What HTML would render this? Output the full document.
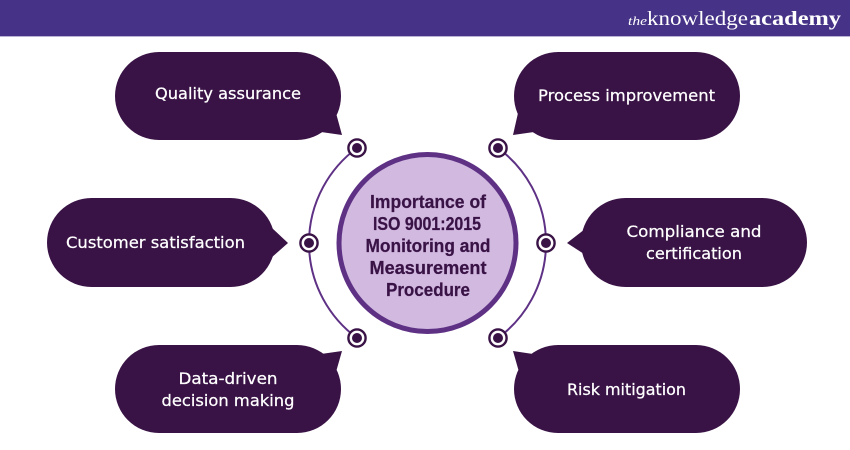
<!DOCTYPE html>
<html>
<head>
<meta charset="utf-8">
<style>
html,body{margin:0;padding:0;background:#fff;width:850px;height:450px;overflow:hidden}
svg{display:block}
.b{font-family:"DejaVu Sans","Liberation Sans",sans-serif;font-size:16px;fill:#fff;text-anchor:middle;stroke:#fff;stroke-width:.25px}
.c{font-family:"Liberation Sans",sans-serif;font-size:18px;font-weight:bold;fill:#3a1346;text-anchor:middle;stroke:#3a1346;stroke-width:.25px}
.l{font-family:"Liberation Serif",serif;fill:#fff}
</style>
</head>
<body>
<svg width="850" height="450" viewBox="0 0 850 450" xmlns="http://www.w3.org/2000/svg">
<rect width="850" height="450" fill="#fff"/>
<rect width="850" height="36" fill="#463387"/>
<rect y="36" width="850" height="1" fill="#b9b2d2"/>
<text class="l" x="628" y="25" font-size="13" font-style="italic" textLength="19" lengthAdjust="spacingAndGlyphs">the</text>
<text class="l" x="647" y="25" font-size="20" textLength="101" lengthAdjust="spacingAndGlyphs">knowledge</text>
<text class="l" x="749" y="25" font-size="20" font-weight="bold" textLength="92" lengthAdjust="spacingAndGlyphs">academy</text>

<g fill="#3a1346">
<rect x="115" y="52" width="226" height="88" rx="44"/>
<path d="M336 113L342 135L321 132Z"/>
<rect x="47" y="198" width="228" height="89" rx="44.500"/>
<path d="M272 228L288 243L271 258Z"/>
<rect x="115" y="345" width="226" height="88" rx="44"/>
<path d="M321 354L342 351L336 372Z"/>
<rect x="514" y="52" width="226" height="88" rx="44"/>
<path d="M518 113L513 135L534 132Z"/>
<rect x="581" y="198" width="226" height="89" rx="44.500"/>
<path d="M585 229L567 243L584 254Z"/>
<rect x="514" y="345" width="226" height="88" rx="44"/>
<path d="M533 354L513 351L519 372Z"/>
</g>

<g fill="none" stroke="#5e3185" stroke-width="2">
<path d="M357 148A118 118 0 0 0 357 338"/>
<path d="M498 148A118 118 0 0 1 498 338"/>
</g>

<circle cx="427.500" cy="243" r="88.500" fill="#d1b9e0" stroke="#5e3185" stroke-width="5"/>

<g fill="#fff" stroke="#3a1346" stroke-width="2.400">
<circle cx="357" cy="148" r="8.600"/>
<circle cx="309" cy="243" r="8.600"/>
<circle cx="357" cy="338" r="8.600"/>
<circle cx="498" cy="148" r="8.600"/>
<circle cx="546" cy="243" r="8.600"/>
<circle cx="498" cy="338" r="8.600"/>
</g>
<g fill="#3a1346">
<circle cx="357" cy="148" r="5"/>
<circle cx="309" cy="243" r="5"/>
<circle cx="357" cy="338" r="5"/>
<circle cx="498" cy="148" r="5"/>
<circle cx="546" cy="243" r="5"/>
<circle cx="498" cy="338" r="5"/>
</g>

<text class="c" x="428" y="208" textLength="116" lengthAdjust="spacingAndGlyphs">Importance of</text>
<text class="c" x="427" y="230" textLength="108" lengthAdjust="spacingAndGlyphs">ISO 9001:2015</text>
<text class="c" x="428" y="252" textLength="125" lengthAdjust="spacingAndGlyphs">Monitoring and</text>
<text class="c" x="428" y="274" textLength="117" lengthAdjust="spacingAndGlyphs">Measurement</text>
<text class="c" x="428" y="296" textLength="84" lengthAdjust="spacingAndGlyphs">Procedure</text>

<text class="b" x="228" y="99" textLength="146" lengthAdjust="spacingAndGlyphs">Quality assurance</text>
<text class="b" x="155.500" y="248" textLength="179" lengthAdjust="spacingAndGlyphs">Customer satisfaction</text>
<text class="b" x="228" y="384" textLength="99" lengthAdjust="spacingAndGlyphs">Data-driven</text>
<text class="b" x="228" y="406" textLength="133" lengthAdjust="spacingAndGlyphs">decision making</text>
<text class="b" x="626.500" y="101" textLength="177" lengthAdjust="spacingAndGlyphs">Process improvement</text>
<text class="b" x="694" y="237" textLength="135" lengthAdjust="spacingAndGlyphs">Compliance and</text>
<text class="b" x="694" y="259" textLength="96" lengthAdjust="spacingAndGlyphs">certification</text>
<text class="b" x="626.500" y="395" textLength="119" lengthAdjust="spacingAndGlyphs">Risk mitigation</text>
</svg>
</body>
</html>
